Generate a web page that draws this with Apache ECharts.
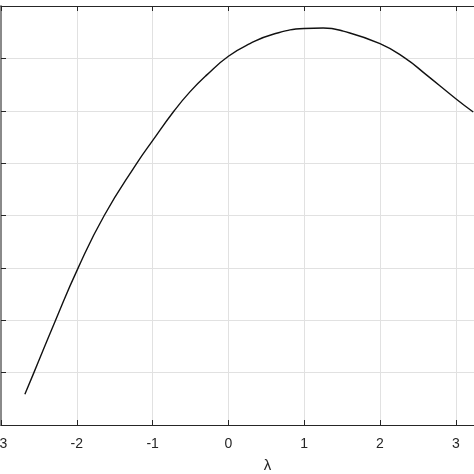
<!DOCTYPE html>
<html>
<head>
<meta charset="utf-8">
<script src="https://cdn.jsdelivr.net/npm/echarts@6/dist/echarts.min.js"></script>
<style>
html,body{margin:0;padding:0;background:#fff;}
#chart{width:474px;height:474px;}
</style>
</head>
<body>
<div id="chart"></div>
<script>
var lambdaValues = [-2.685, -2.566, -2.28, -1.982, -1.638, -1.207, -1.0, -0.715, -0.508, -0.288, 0, 0.284, 0.59, 1.0, 1.25, 1.515, 2.0, 2.335, 2.6, 3.0, 3.23];
var curveValues  = [0.586, 1.0, 2.0, 3.0, 4.0, 5.0, 5.43, 6.0, 6.36, 6.68, 7.04, 7.28, 7.46, 7.57, 7.58, 7.52, 7.28, 7.0, 6.70, 6.23, 5.975];
var xTicks = [-3, -2, -1, 0, 1, 2, 3];
var xName = 'λ';

var seriesData = lambdaValues.map(function (x, i) { return [x, curveValues[i]]; });

var chart = echarts.init(document.getElementById('chart'), null, {renderer: 'canvas'});
var labelFont = 'Liberation Sans, Arial, sans-serif';
chart.setOption({
  animation: false,
  backgroundColor: '#ffffff',
  grid: {left: 1, right: 0, top: 6, bottom: 49, containLabel: false, outerBoundsMode: 'none'},
  xAxis: [{
    type: 'value', min: -3, max: 3.24, interval: 1, position: 'bottom',
    name: xName, nameLocation: 'middle', nameGap: 33,
    nameTextStyle: {fontSize: 15, color: '#262626', fontFamily: labelFont, padding: [0, 0, 0, 60]},
    axisLine: {show: true, onZero: false, lineStyle: {color: '#262626', width: 1}},
    axisTick: {show: true, inside: true, length: 5, lineStyle: {color: '#262626'}},
    axisLabel: {
      show: true, margin: 12, fontSize: 14, color: '#262626', fontFamily: labelFont,
      showMaxLabel: false, hideOverlap: false,
      formatter: function (v) { return xTicks.indexOf(v) >= 0 ? String(v) : ''; }
    },
    splitLine: {show: true, lineStyle: {color: '#e1e1e1', width: 1}}
  }, {
    type: 'value', min: -3, max: 3.24, interval: 1, position: 'top',
    axisLine: {show: true, onZero: false, lineStyle: {color: '#262626', width: 1}},
    axisTick: {show: true, inside: true, length: 5, lineStyle: {color: '#262626'}},
    axisLabel: {show: false},
    splitLine: {show: false}
  }],
  yAxis: {
    type: 'value', min: 0, max: 8, interval: 1,
    axisLine: {show: true, onZero: false, lineStyle: {color: '#8a8a8a', width: 2}},
    axisTick: {show: true, inside: true, length: 5, lineStyle: {color: '#262626'}},
    axisLabel: {show: false},
    splitLine: {show: true, lineStyle: {color: '#e1e1e1', width: 1}}
  },
  series: [{
    type: 'line',
    xAxisIndex: 0,
    data: seriesData,
    smooth: 0.5,
    showSymbol: false,
    symbol: 'none',
    lineStyle: {color: '#111111', width: 1.4}
  }]
});
</script>
</body>
</html>
